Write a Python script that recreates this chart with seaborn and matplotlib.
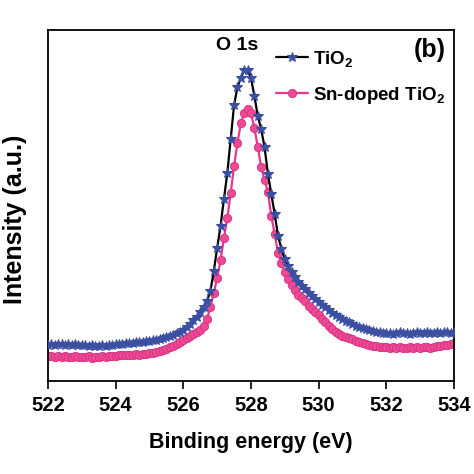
import numpy as np
import pandas as pd
import seaborn as sns
import matplotlib
matplotlib.use("Agg")
import matplotlib.pyplot as plt

# Binding energy grid (eV), 0.1 eV steps
energy = [round(522.0 + 0.1 * i, 1) for i in range(121)]

tio2 = [
    36, 37, 36, 37, 37, 36, 37, 36, 37, 36, 36,
    36, 35, 36, 35, 35, 36, 35, 36, 36, 37,
    37, 37, 38, 38, 38, 39, 39, 39, 40, 40,
    41, 41, 42, 43, 44, 45, 46, 48, 49, 51,
    54, 57, 61, 64, 69, 74, 80, 90, 110, 133,
    155, 182, 208, 242, 276, 294, 303, 311, 311, 303,
    285, 265, 252, 234, 207, 187, 167, 145, 132, 122,
    115, 109, 104, 99, 95, 92, 88, 85, 82, 79,
    76, 74, 71, 68, 66, 64, 62, 60, 59, 57,
    55, 54, 53, 52, 51, 50, 49, 49, 48, 48,
    48, 47, 48, 49, 48, 48, 47, 48, 49, 48,
    48, 49, 48, 48, 49, 48, 49, 49, 48, 49,
]

sn_tio2 = [
    25, 25, 24, 25, 24, 25, 24, 24, 25, 24, 24,
    24, 25, 23, 24, 24, 25, 24, 25, 25, 25,
    26, 26, 26, 26, 26, 27, 26, 27, 27, 28,
    28, 29, 30, 31, 32, 34, 35, 37, 39, 41,
    43, 45, 47, 49, 51, 55, 62, 74, 88, 103,
    121, 143, 163, 188, 215, 238, 258, 268, 272, 268,
    253, 234, 214, 201, 189, 165, 147, 128, 118, 109,
    102, 96, 91, 86, 83, 80, 75, 72, 69, 66,
    62, 59, 55, 52, 49, 47, 45, 44, 43, 42,
    40, 39, 38, 37, 36, 35, 35, 34, 34, 34,
    33, 34, 33, 34, 33, 33, 34, 33, 34, 33,
    34, 34, 33, 34, 35, 35, 36, 36, 37, 38,
]

xticks = [522, 524, 526, 528, 530, 532, 534]

df = pd.DataFrame({"energy": energy, "TiO2": tio2, "Sn": sn_tio2})

sns.set_style("white")
plt.rcParams["font.family"] = ["Liberation Sans", "DejaVu Sans"]
plt.rcParams["text.color"] = "black"
plt.rcParams["axes.labelcolor"] = "black"
plt.rcParams["xtick.color"] = "black"
plt.rcParams["mathtext.fontset"] = "custom"
plt.rcParams["mathtext.rm"] = "Liberation Sans:bold"
plt.rcParams["mathtext.it"] = "Liberation Sans:bold"
plt.rcParams["mathtext.bf"] = "Liberation Sans:bold"

fig = plt.figure(figsize=(4.74, 4.74), dpi=100)
ax = fig.add_axes([48 / 474, 1 - 381 / 474, (454 - 48) / 474, (381 - 30) / 474])

sns.lineplot(data=df, x="energy", y="TiO2", ax=ax, color="black", lw=1.6,
             marker="*", markersize=7.5, markerfacecolor="#3b4fa3",
             markeredgecolor="#3b4fa3", label=r"TiO$_2$", zorder=3)
sns.lineplot(data=df, x="energy", y="Sn", ax=ax, color="#e8388a", lw=1.6,
             marker="o", markersize=6, markerfacecolor="#ec4a95",
             markeredgecolor="#d92e7e", markeredgewidth=0.6,
             label=r"Sn-doped TiO$_2$", zorder=2)

ax.set_xlim(522, 534)
ax.set_ylim(0, 351)
ax.set_xticks(xticks)
ax.set_xticklabels([str(t) for t in xticks], fontsize=14.5, fontweight="bold")
ax.set_yticks([])
ax.tick_params(axis="x", direction="out", length=6, width=1.2, bottom=True, pad=5,
               colors="black")
for s in ax.spines.values():
    s.set_linewidth(1.3)
    s.set_color("black")

ax.set_xlabel("Binding energy (eV)", fontsize=15.5, fontweight="bold", labelpad=12)
ax.set_ylabel("Intensity (a.u.)", fontsize=18, fontweight="bold")
ax.yaxis.set_label_coords(-0.052, 0.46)

ax.text(237 / 474, 1 - 45 / 474, "O 1s", transform=fig.transFigure,
        ha="center", va="center", fontsize=14, fontweight="bold")
ax.text(430 / 474, 1 - 50 / 474, "(b)", transform=fig.transFigure,
        ha="center", va="center", fontsize=18, fontweight="bold")

leg = ax.legend(loc="upper left", bbox_to_anchor=(276 / 474, 1 - 49 / 474),
                bbox_transform=fig.transFigure, frameon=False,
                borderpad=0, borderaxespad=0, handlelength=1.7,
                handletextpad=0.25, labelspacing=0.85,
                prop={"family": "Liberation Sans", "weight": "bold", "size": 13.5})

fig.savefig("out.png", dpi=100)
